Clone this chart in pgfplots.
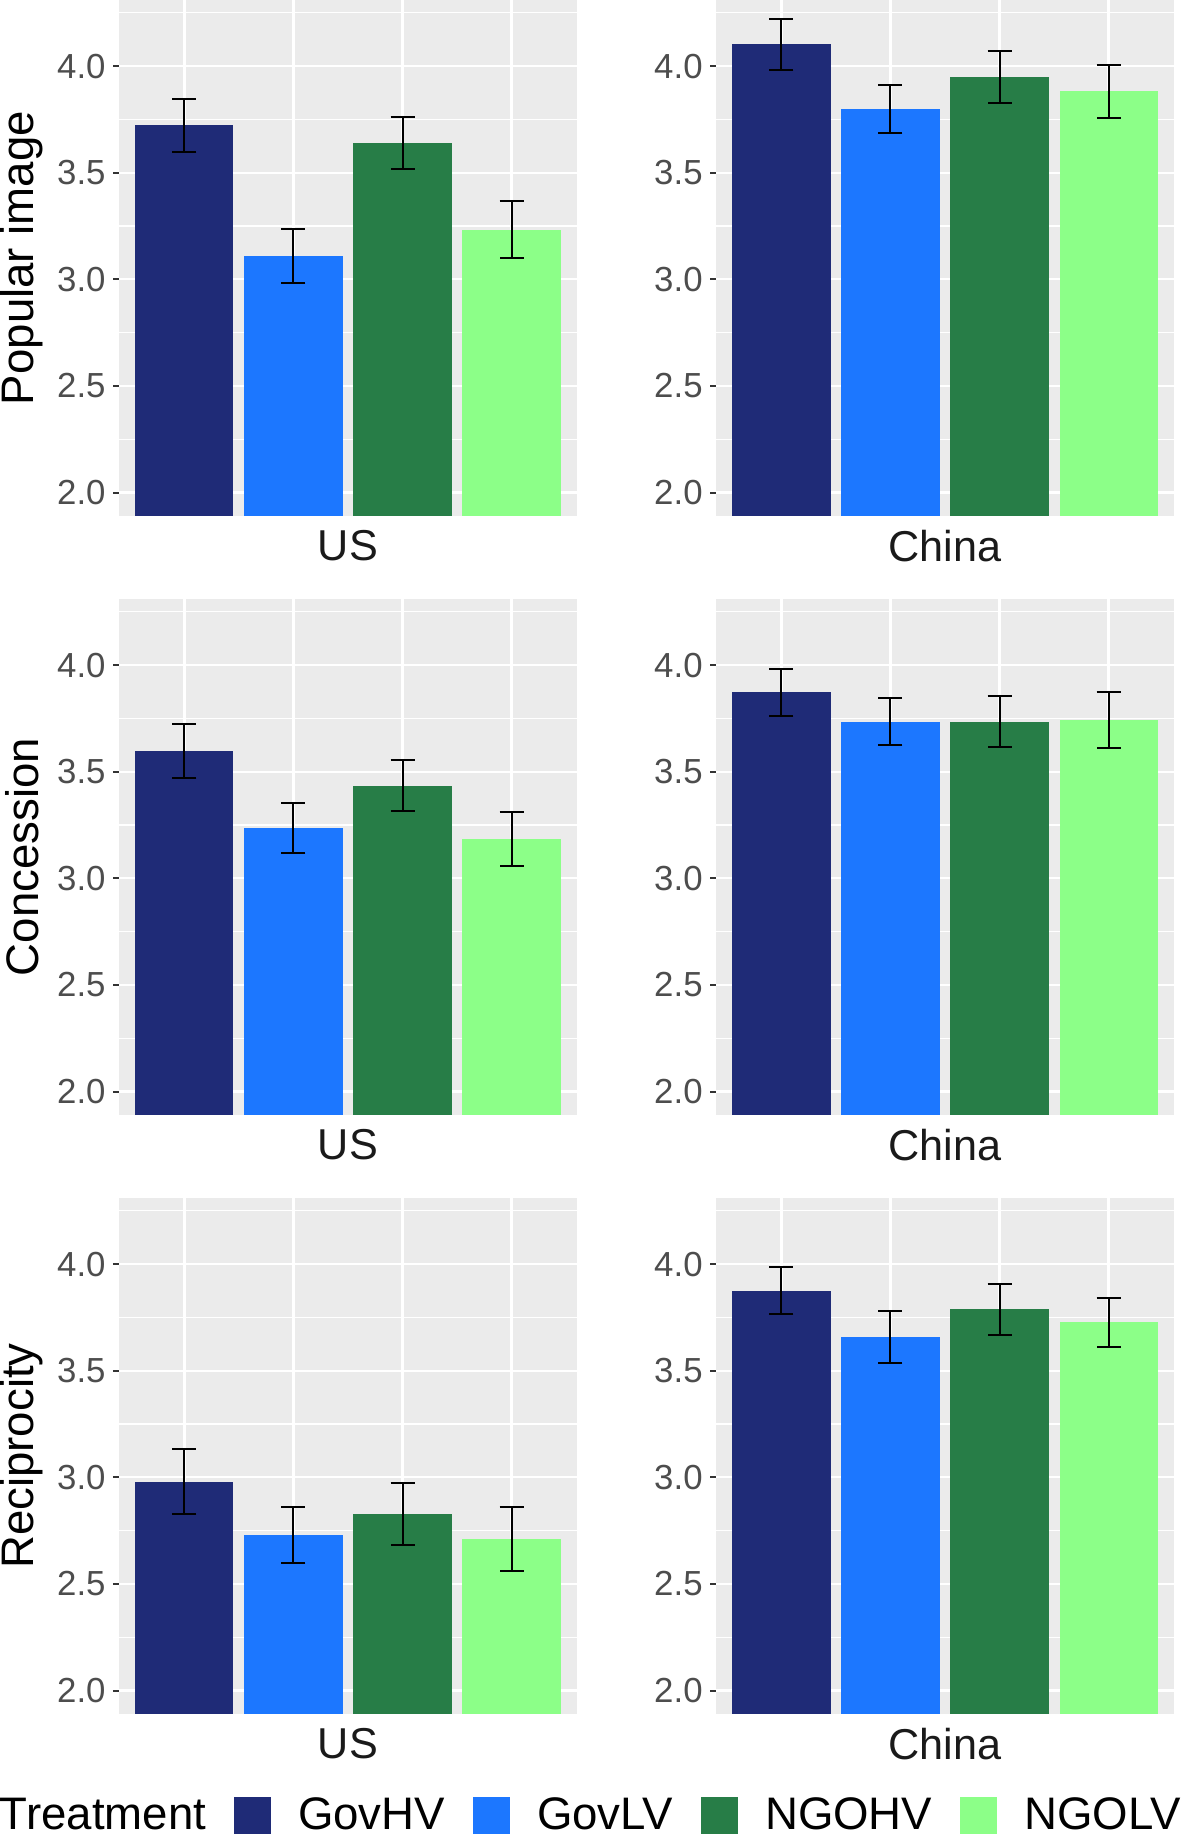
\documentclass[border=0pt]{standalone}
\usepackage{fontspec}
\setmainfont{Liberation Sans}
\usepackage{pgfplots}
\pgfplotsset{compat=1.18}
\definecolor{c1}{HTML}{1F2B77}
\definecolor{c2}{HTML}{1C77FF}
\definecolor{c3}{HTML}{277D47}
\definecolor{c4}{HTML}{8CFF88}
\definecolor{panelbg}{HTML}{EBEBEB}
\definecolor{tickl}{HTML}{4D4D4D}
\definecolor{tickc}{HTML}{333333}
\definecolor{stripc}{HTML}{1A1A1A}
\pgfplotsset{
  panel/.style={
    scale only axis, width=229pt, height=258pt,
    anchor=north west,
    xmin=0.4, xmax=4.6, ymin=1.89, ymax=4.31,
    xtick={1,2,3,4}, xticklabels={}, xtick style={draw=none},
    ytick={2,2.5,3,3.5,4}, minor ytick={2.25,2.75,3.25,3.75,4.25},
    ytick pos=left, tick align=outside, major tick length=3pt, minor tick length=0pt,
    ytick style={color=tickc, line width=1pt},
    minor tick style={draw=none},
    yticklabel style={font=\fontsize{17.4}{20}\selectfont, text=tickl, inner sep=1pt, xshift=-2.5pt,
      /pgf/number format/.cd, fixed, fixed zerofill, precision=1},
    /pgf/number format/assume math mode=true,
    xmajorgrids, ymajorgrids, yminorgrids,
    major grid style={white, line width=1.1pt},
    minor grid style={white, line width=0.55pt},
    axis line style={draw=none},
    axis background/.style={fill=panelbg},
    xlabel style={at={(axis description cs:0.5,0)}, anchor=center, yshift=-15pt,
      font=\fontsize{21.6}{24}\selectfont, text=stripc},
    ylabel style={at={(axis description cs:-0.2118,0.5)}, anchor=center,
      font=\fontsize{22.8}{26}\selectfont, text=black},
  },
  bb/.style={ybar, bar width=0.9, bar shift=0pt, fill=#1, draw=none,
    error bars/y dir=both, error bars/y explicit,
    error bars/error bar style={black, line width=1pt},
    error bars/error mark options={rotate=90, black, line width=1pt, mark size=6pt}},
}
\begin{document}
\begin{tikzpicture}
\useasboundingbox (0pt,0pt) rectangle (590.5pt,-920.5pt);

% Row 1
\begin{axis}[panel, at={(59.5pt,0pt)}, ylabel={Popular image}, xlabel={US}]
\addplot[bb=c1] coordinates {(1,3.722) +- (0,0.125)};
\addplot[bb=c2] coordinates {(2,3.110) +- (0,0.125)};
\addplot[bb=c3] coordinates {(3,3.640) +- (0,0.122)};
\addplot[bb=c4] coordinates {(4,3.233) +- (0,0.132)};
\end{axis}
\begin{axis}[panel, at={(358pt,0pt)}, xlabel={China}]
\addplot[bb=c1] coordinates {(1,4.102) +- (0,0.118)};
\addplot[bb=c2] coordinates {(2,3.799) +- (0,0.114)};
\addplot[bb=c3] coordinates {(3,3.948) +- (0,0.123)};
\addplot[bb=c4] coordinates {(4,3.882) +- (0,0.125)};
\end{axis}

% Row 2
\begin{axis}[panel, at={(59.5pt,-299.5pt)}, ylabel={Concession}, xlabel={US}]
\addplot[bb=c1] coordinates {(1,3.597) +- (0,0.128)};
\addplot[bb=c2] coordinates {(2,3.238) +- (0,0.117)};
\addplot[bb=c3] coordinates {(3,3.434) +- (0,0.120)};
\addplot[bb=c4] coordinates {(4,3.183) +- (0,0.127)};
\end{axis}
\begin{axis}[panel, at={(358pt,-299.5pt)}, xlabel={China}]
\addplot[bb=c1] coordinates {(1,3.873) +- (0,0.110)};
\addplot[bb=c2] coordinates {(2,3.735) +- (0,0.112)};
\addplot[bb=c3] coordinates {(3,3.735) +- (0,0.120)};
\addplot[bb=c4] coordinates {(4,3.744) +- (0,0.131)};
\end{axis}

% Row 3
\begin{axis}[panel, at={(59.5pt,-599pt)}, ylabel={Reciprocity}, xlabel={US},
  legend style={at={(axis description cs:-0.3188,-0.1957)}, anchor=west,
    draw=none, fill=none, inner sep=0pt, outer sep=0pt,
    font=\fontsize{22.8}{26}\selectfont,
    nodes={inner sep=0pt},
    /tikz/every odd column/.append style={column sep=13.5pt},
    /tikz/every even column/.append style={column sep=14pt}},
  legend columns=-1]
\addlegendimage{empty legend}
\addlegendentry{Treatment}
\addplot[bb=c1, legend image code/.code={\fill[c1] (0pt,-9.25pt) rectangle (18.5pt,9.25pt);}] coordinates {(1,2.980) +- (0,0.151)};
\addlegendentry{GovHV}
\addplot[bb=c2, legend image code/.code={\fill[c2] (0pt,-9.25pt) rectangle (18.5pt,9.25pt);}] coordinates {(2,2.730) +- (0,0.133)};
\addlegendentry{GovLV}
\addplot[bb=c3, legend image code/.code={\fill[c3] (0pt,-9.25pt) rectangle (18.5pt,9.25pt);}] coordinates {(3,2.828) +- (0,0.147)};
\addlegendentry{NGOHV}
\addplot[bb=c4, legend image code/.code={\fill[c4] (0pt,-9.25pt) rectangle (18.5pt,9.25pt);}] coordinates {(4,2.711) +- (0,0.149)};
\addlegendentry{NGOLV}
\end{axis}
\begin{axis}[panel, at={(358pt,-599pt)}, xlabel={China}]
\addplot[bb=c1] coordinates {(1,3.876) +- (0,0.111)};
\addplot[bb=c2] coordinates {(2,3.656) +- (0,0.122)};
\addplot[bb=c3] coordinates {(3,3.788) +- (0,0.121)};
\addplot[bb=c4] coordinates {(4,3.728) +- (0,0.115)};
\end{axis}
\end{tikzpicture}
\end{document}
